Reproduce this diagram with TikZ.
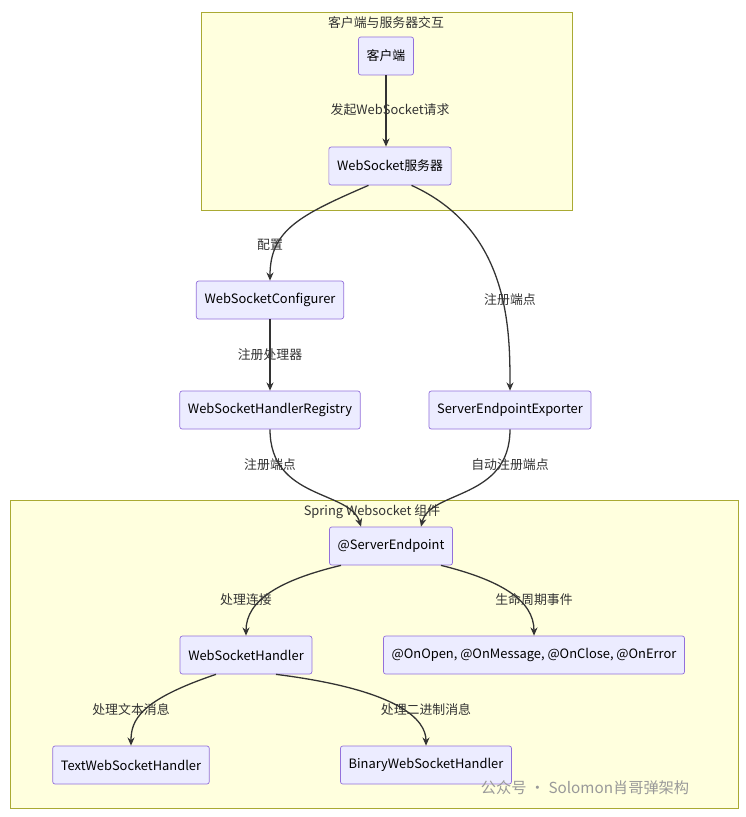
\documentclass[tikz,border=0pt]{standalone}
\usepackage{fontspec}
\setmainfont{Noto Sans CJK SC}
\usetikzlibrary{arrows.meta}
\definecolor{clfill}{HTML}{FFFFDE}
\definecolor{cldraw}{HTML}{AAAA33}
\definecolor{nfill}{HTML}{ECECFF}
\definecolor{ndraw}{HTML}{9370DB}
\definecolor{edge}{HTML}{333333}
\begin{document}
\begin{tikzpicture}[x=0.03cm,y=-0.03cm,
  font=\fontsize{11}{13}\selectfont,
  cl/.style={draw=cldraw,fill=clfill,line width=0.6pt},
  nd/.style={draw=ndraw,fill=nfill,rounded corners=2pt,line width=0.6pt,minimum height=0.03cm*38,inner xsep=7pt},
  ar/.style={draw=edge,line width=1.1pt,-{Stealth[length=7pt,width=6pt]}},
  lb/.style={text=edge}]
\useasboundingbox (0,0) rectangle (745,817);
\fill[white] (0,0) rectangle (745,817);
\draw[cl] (201,12) rectangle (572,210);
\node[text=edge] (t1) at (386,23) {客户端与服务器交互};
\draw[cl] (10,500) rectangle (738,808);
\node[text=edge] (t2) at (372,512) {Spring Websocket 组件};
\node[nd] (c) at (386,56) {客户端};
\node[nd] (ws) at (390,166) {WebSocket服务器};
\node[nd] (cfg) at (270,300) {WebSocketConfigurer};
\node[nd] (reg) at (270,410) {WebSocketHandlerRegistry};
\node[nd] (exp) at (510,410) {ServerEndpointExporter};
\node[nd] (se) at (391,546) {@ServerEndpoint};
\node[nd] (wsh) at (246,655) {WebSocketHandler};
\node[nd] (on) at (534,655) {@OnOpen, @OnMessage, @OnClose, @OnError};
\node[nd] (txt) at (131,765) {TextWebSocketHandler};
\node[nd] (bin) at (426,765) {BinaryWebSocketHandler};
\draw[ar] (c) -- (c|-ws.north);
\draw[ar] (ws.south west)++(40,0) coordinate (a1) .. controls (300,215) and (270,230) .. (cfg.north);
\draw[ar] (ws.south east)++(-40,0) coordinate (a2) .. controls (510,230) and (510,330) .. (exp.north);
\draw[ar] (cfg) -- (reg);
\draw[ar] (reg.south) .. controls (270,500) and (350,490) .. ([xshift=-0.03cm*30]se.north);
\draw[ar] (exp.south) .. controls (510,500) and (430,490) .. ([xshift=0.03cm*30]se.north);
\draw[ar] ([xshift=-0.03cm*50]se.south) .. controls (280,580) and (246,600) .. (wsh.north);
\draw[ar] ([xshift=0.03cm*50]se.south) .. controls (500,580) and (534,600) .. (on.north);
\draw[ar] ([xshift=-0.03cm*30]wsh.south) .. controls (140,700) and (131,720) .. (txt.north);
\draw[ar] ([xshift=0.03cm*30]wsh.south) .. controls (400,690) and (426,720) .. (bin.north);
\node[lb] (l1) at (390,110) {发起WebSocket请求};
\node[lb] (l2) at (270,245) {配置};
\node[lb] (l3) at (510,300) {注册端点};
\node[lb] (l4) at (270,355) {注册处理器};
\node[lb] (l5) at (270,465) {注册端点};
\node[lb] (l6) at (510,465) {自动注册端点};
\node[lb] (l7) at (246,600) {处理连接};
\node[lb] (l8) at (534,600) {生命周期事件};
\node[lb] (l9) at (131,710) {处理文本消息};
\node[lb] (l10) at (426,710) {处理二进制消息};
\node[text=gray!80,font=\fontsize{13}{15}\selectfont] (wm) at (585,788) {公众号 · Solomon肖哥弹架构};
\end{tikzpicture}
\end{document}
